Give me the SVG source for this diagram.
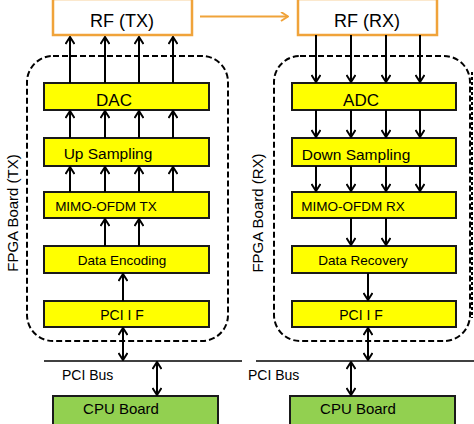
<svg xmlns="http://www.w3.org/2000/svg" width="474" height="424" viewBox="0 0 474 424">
<defs>
<marker id="ah" viewBox="0 0 10 10" refX="9" refY="5" markerWidth="10" markerHeight="10" orient="auto-start-reverse" markerUnits="userSpaceOnUse">
<path d="M2,0.5 L9,5 L2,9.5" fill="none" stroke="#000" stroke-width="2"/>
</marker>
<marker id="oh" viewBox="0 0 10 10" refX="9" refY="5" markerWidth="10" markerHeight="10" orient="auto" markerUnits="userSpaceOnUse">
<path d="M2,0.5 L9,5 L2,9.5" fill="none" stroke="#F0A33A" stroke-width="2"/>
</marker>
</defs>
<style>
text{font-family:"Liberation Sans",Arial,sans-serif;fill:#000}
.rf{fill:#fff;stroke:#F0A33A;stroke-width:2.5}
.blk{fill:#FFFF00;stroke:#1a1a1a;stroke-width:2}
.cpu{fill:#92D050;stroke:#1a1a1a;stroke-width:2}
.fpga{fill:none;stroke:#000;stroke-width:2;stroke-dasharray:6,3}
.ar{stroke:#000;stroke-width:2;fill:none;marker-end:url(#ah)}
.bi{stroke:#000;stroke-width:2;fill:none;marker-end:url(#ah);marker-start:url(#ah)}
.bus{stroke:#000;stroke-width:1.5}
</style>
<rect width="474" height="424" fill="#fff"/>
<g id="fpga-tx"><rect class="fpga" x="27" y="56" width="201" height="285" rx="26"/><text transform="translate(18,213) rotate(-90)" text-anchor="middle" font-size="15">FPGA Board (TX)</text></g>
<g id="fpga-rx"><rect class="fpga" x="274" y="56" width="196" height="285" rx="26"/><line x1="472" y1="72" x2="472" y2="318" stroke="#000" stroke-width="2" stroke-dasharray="3,2"/><text transform="translate(263,213) rotate(-90)" text-anchor="middle" font-size="15">FPGA Board (RX)</text></g>
<g id="rf-tx"><rect class="rf" x="53" y="-1" width="139" height="36"/><text x="122" y="27" text-anchor="middle" font-size="18">RF (TX)</text></g>
<g id="rf-rx"><rect class="rf" x="298" y="-1" width="139" height="36"/><text x="367" y="27" text-anchor="middle" font-size="18">RF (RX)</text></g>
<g id="dac"><rect class="blk" x="44" y="83" width="165" height="27"/><text x="114" y="106" text-anchor="middle" font-size="17">DAC</text></g>
<g id="upsampling"><rect class="blk" x="44" y="138" width="165" height="28"/><text x="108" y="159" text-anchor="middle" font-size="15.5">Up Sampling</text></g>
<g id="mimo-tx"><rect class="blk" x="44" y="192" width="165" height="26"/><text x="106" y="211" text-anchor="middle" font-size="13.5">MIMO-OFDM TX</text></g>
<g id="encoding"><rect class="blk" x="44" y="246" width="165" height="27"/><text x="122" y="265" text-anchor="middle" font-size="13.5">Data Encoding</text></g>
<g id="pci-tx"><rect class="blk" x="44" y="301" width="165" height="26"/><text x="122" y="320" text-anchor="middle" font-size="14">PCI I F</text></g>
<g id="cpu-tx"><rect class="cpu" x="53" y="396" width="165" height="30"/><text x="121" y="414" text-anchor="middle" font-size="15">CPU Board</text></g>
<g id="adc"><rect class="blk" x="292" y="83" width="164" height="27"/><text x="361" y="106" text-anchor="middle" font-size="17">ADC</text></g>
<g id="downsampling"><rect class="blk" x="292" y="138" width="164" height="28"/><text x="356" y="160" text-anchor="middle" font-size="15.5">Down Sampling</text></g>
<g id="mimo-rx"><rect class="blk" x="292" y="192" width="164" height="26"/><text x="353" y="211" text-anchor="middle" font-size="13.5">MIMO-OFDM RX</text></g>
<g id="recovery"><rect class="blk" x="292" y="246" width="164" height="27"/><text x="363" y="265" text-anchor="middle" font-size="13.5">Data Recovery</text></g>
<g id="pci-rx"><rect class="blk" x="292" y="301" width="164" height="26"/><text x="361" y="320" text-anchor="middle" font-size="14">PCI I F</text></g>
<g id="cpu-rx"><rect class="cpu" x="290" y="396" width="165" height="30"/><text x="358" y="414" text-anchor="middle" font-size="15">CPU Board</text></g>
<g id="bus-tx"><line class="bus" x1="44" y1="361" x2="242" y2="361"/><text x="62" y="380" font-size="14">PCI Bus</text></g>
<g id="bus-rx"><line class="bus" x1="256" y1="361" x2="474" y2="361"/><text x="248" y="380" font-size="14">PCI Bus</text></g>
<g id="connectors">
<line x1="200" y1="16.5" x2="288" y2="16.5" stroke="#F0A33A" stroke-width="2" marker-end="url(#oh)"/>
<path class="ar" d="M70,83V37"/><path class="ar" d="M105,83V37"/><path class="ar" d="M139,83V37"/><path class="ar" d="M173,83V37"/>
<path class="ar" d="M70,138V111"/><path class="ar" d="M105,138V111"/><path class="ar" d="M139,138V111"/><path class="ar" d="M173,138V111"/>
<path class="ar" d="M70,192V167"/><path class="ar" d="M105,192V167"/><path class="ar" d="M139,192V167"/><path class="ar" d="M173,192V167"/>
<path class="ar" d="M105,246V219"/><path class="ar" d="M139,246V219"/>
<path class="ar" d="M123,301V274"/>
<path class="bi" d="M123,328V360"/>
<path class="bi" d="M157,362V395"/>
<path class="ar" d="M316,35V82"/><path class="ar" d="M351,35V82"/><path class="ar" d="M386,35V82"/><path class="ar" d="M420,35V82"/>
<path class="ar" d="M316,110V137"/><path class="ar" d="M351,110V137"/><path class="ar" d="M386,110V137"/><path class="ar" d="M420,110V137"/>
<path class="ar" d="M316,166V191"/><path class="ar" d="M351,166V191"/><path class="ar" d="M386,166V191"/><path class="ar" d="M420,166V191"/>
<path class="ar" d="M351,218V245"/><path class="ar" d="M386,218V245"/>
<path class="ar" d="M368,273V300"/>
<path class="bi" d="M368,328V360"/>
<path class="bi" d="M351,362V395"/>
</g>
</svg>
